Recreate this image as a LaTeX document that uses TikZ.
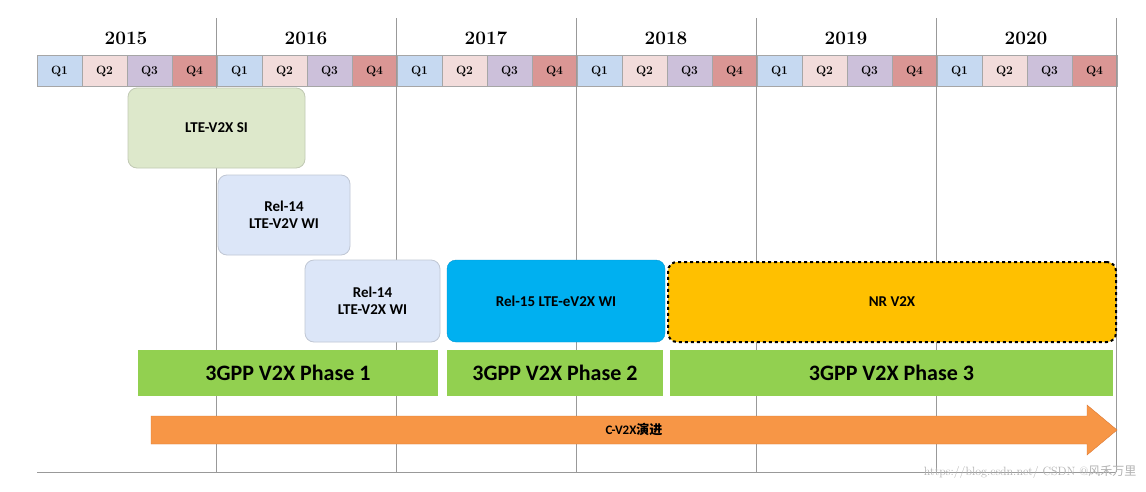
\documentclass[tikz,border=0pt]{standalone}
\usepackage{fontspec}
\setsansfont{Carlito}
\newfontfamily\cjk{Noto Sans CJK SC}
\usetikzlibrary{calc}
\definecolor{qa}{HTML}{C6D9F1}\definecolor{qb}{HTML}{F2DCDB}
\definecolor{qc}{HTML}{CCC0DA}\definecolor{qd}{HTML}{DA9694}
\definecolor{phgreen}{HTML}{92D050}\definecolor{siG}{HTML}{DDE8CB}
\definecolor{relB}{HTML}{DCE6F8}
\definecolor{evB}{HTML}{00B0F0}\definecolor{evBd}{HTML}{0096D2}
\definecolor{nrY}{HTML}{FFC000}
\definecolor{arO}{HTML}{F79646}\definecolor{arOd}{HTML}{DC7832}
\begin{document}
\begin{tikzpicture}[x=1pt,y=-1pt,
  lbl/.style={font=\sffamily\bfseries\fontsize{15}{17}\selectfont,align=center},
  box/.style={rounded corners=9pt,draw=#1!70!gray,line width=0.8pt,lbl},
  phase/.style={fill=phgreen,draw=none,font=\sffamily\bfseries\fontsize{22}{24}\selectfont,inner sep=0pt},
  yr/.style={font=\bfseries\fontsize{19}{21}\selectfont},
  qq/.style={draw=gray!70,line width=0.6pt,font=\bfseries\fontsize{12}{14}\selectfont,inner sep=0pt,minimum width=45pt,minimum height=31pt}]
\useasboundingbox (0,0) rectangle (1146,491);
\fill[white] (0,0) rectangle (1146,491);
\foreach \y [count=\i from 0] in {2015,2016,2017,2018,2019,2020}{
  \node[yr] (y\y) at (126+180*\i,38) {\y};
  \foreach \q/\c [count=\j from 0] in {Q1/qa,Q2/qb,Q3/qc,Q4/qd}
    \node[qq,fill=\c] (q\y\j) at (59.5+180*\i+45*\j,71) {\q};
}
\foreach \x in {216,396,576,756,936,1116} \draw[gray!80,line width=1pt] (\x,18) -- (\x,472);
\draw[gray!80,line width=1pt] (37,472) -- (1116,472);
\node[box=siG,fill=siG,minimum width=177pt,minimum height=80pt] (si) at (216.5,128) {LTE-V2X SI};
\node[box=relB,fill=relB,minimum width=132pt,minimum height=80pt] (v2v) at (284,215) {Rel-14\\LTE-V2V WI};
\node[box=relB,fill=relB,minimum width=135pt,minimum height=82pt] (v2x) at (372.5,301) {Rel-14\\LTE-V2X WI};
\node[rounded corners=9pt,fill=evB,draw=evBd,lbl,minimum width=218pt,minimum height=82pt] (ev) at (556,301) {Rel-15 LTE-eV2X WI};
\node[rounded corners=9pt,fill=nrY,draw=black,dashed,line width=2pt,lbl,minimum width=448pt,minimum height=80pt] (nr) at (892,302) {NR V2X};
\node[phase,minimum width=300pt,minimum height=46pt] (p1) at (288,373) {3GPP V2X Phase 1};
\node[phase,minimum width=216pt,minimum height=46pt] (p2) at (555,373) {3GPP V2X Phase 2};
\node[phase,minimum width=443pt,minimum height=46pt] (p3) at (891.5,373) {3GPP V2X Phase 3};
\coordinate (a0) at (151,430); \coordinate (a1) at (1117,430);
\fill[arO,draw=arOd] (151,416) -- (1087,416) -- (1087,405) -- (1117,430) -- (1087,455) -- (1087,444) -- (151,444) -- cycle;
\node[font=\sffamily\bfseries\fontsize{13}{15}\selectfont] (arr) at ($(a0)!0.5!(a1)$) {C-V2X{\cjk 演进}};
\node[anchor=east,text=gray!60,font=\fontsize{12}{14}\selectfont] (wm) at (1140,472) {https://blog.csdn.net/ CSDN @{\cjk 风禾万里}};
\end{tikzpicture}
\end{document}
